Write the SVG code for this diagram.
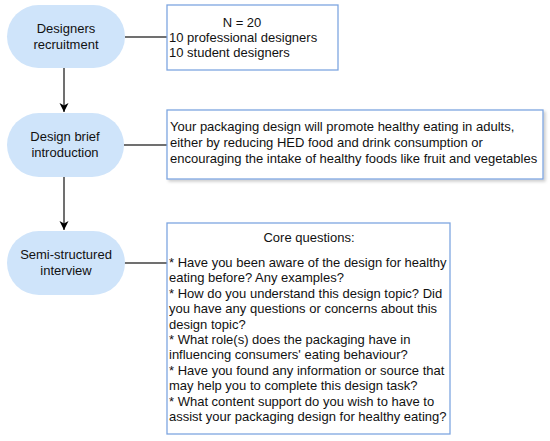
<svg xmlns="http://www.w3.org/2000/svg" width="550" height="441" viewBox="0 0 550 441">
<defs>
<style>
.term{fill:#cfe4fa;stroke:none}
.box{fill:#ffffff;stroke:#7ea6e0;stroke-width:1.3}
.t{font-family:"Liberation Sans",Arial,sans-serif;font-size:13px;fill:#111}
.c{text-anchor:middle}
.ln{stroke:#404040;stroke-width:1.5;fill:none}
</style>
<marker id="ah" markerWidth="10" markerHeight="10" refX="9" refY="5" orient="auto" markerUnits="userSpaceOnUse">
<path d="M0,0.5 L9,5 L0,9.5 L2.5,5 Z" fill="#000"/>
</marker>
<filter id="sh" x="-5%" y="-10%" width="115%" height="130%">
<feDropShadow dx="2" dy="2" stdDeviation="1.5" flood-color="#000" flood-opacity="0.2"/>
</filter>
</defs>
<g id="connectors">
<line class="ln" x1="125" y1="37" x2="167" y2="37"/>
<line class="ln" x1="124" y1="145" x2="167" y2="145"/>
<line class="ln" x1="124" y1="263" x2="167" y2="263"/>
<line class="ln" x1="64" y1="68" x2="64" y2="112" marker-end="url(#ah)"/>
<line class="ln" x1="64" y1="177" x2="64" y2="230" marker-end="url(#ah)"/>
</g>
<g id="n1">
<rect class="term" x="7" y="5" width="118" height="63" rx="31.5"/>
<text class="t c" x="66" y="33">Designers</text>
<text class="t c" x="66" y="49">recruitment</text>
</g>
<g id="b1">
<rect class="box" x="167" y="5" width="171" height="65"/>
<text class="t c" x="242" y="27">N = 20</text>
<text class="t" x="169" y="42">10 professional designers</text>
<text class="t" x="169" y="57">10 student designers</text>
</g>
<g id="n2">
<rect class="term" x="7" y="113" width="117" height="64" rx="32"/>
<text class="t c" x="65" y="141">Design brief</text>
<text class="t c" x="65" y="157">introduction</text>
</g>
<g id="b2">
<rect class="box" x="167" y="110" width="376" height="69" filter="url(#sh)"/>
<text class="t" x="170" y="131">Your packaging design will promote healthy eating in adults,</text>
<text class="t" x="170" y="147">either by reducing HED food and drink consumption or</text>
<text class="t" x="170" y="163">encouraging the intake of healthy foods like fruit and vegetables</text>
</g>
<g id="n3">
<rect class="term" x="7" y="231" width="118" height="64" rx="32"/>
<text class="t c" x="66" y="259">Semi-structured</text>
<text class="t c" x="66" y="275">interview</text>
</g>
<g id="b3">
<rect class="box" x="167" y="223" width="283" height="211"/>
<text class="t c" x="309" y="242">Core questions:</text>
<text class="t" x="169" y="267">* Have you been aware of the design for healthy</text>
<text class="t" x="169" y="282">eating before? Any examples?</text>
<text class="t" x="169" y="298">* How do you understand this design topic? Did</text>
<text class="t" x="169" y="313">you have any questions or concerns about this</text>
<text class="t" x="169" y="329">design topic?</text>
<text class="t" x="169" y="344">* What role(s) does the packaging have in</text>
<text class="t" x="169" y="359">influencing consumers' eating behaviour?</text>
<text class="t" x="169" y="375">* Have you found any information or source that</text>
<text class="t" x="169" y="390">may help you to complete this design task?</text>
<text class="t" x="169" y="406">* What content support do you wish to have to</text>
<text class="t" x="169" y="421">assist your packaging design for healthy eating?</text>
</g>
</svg>
